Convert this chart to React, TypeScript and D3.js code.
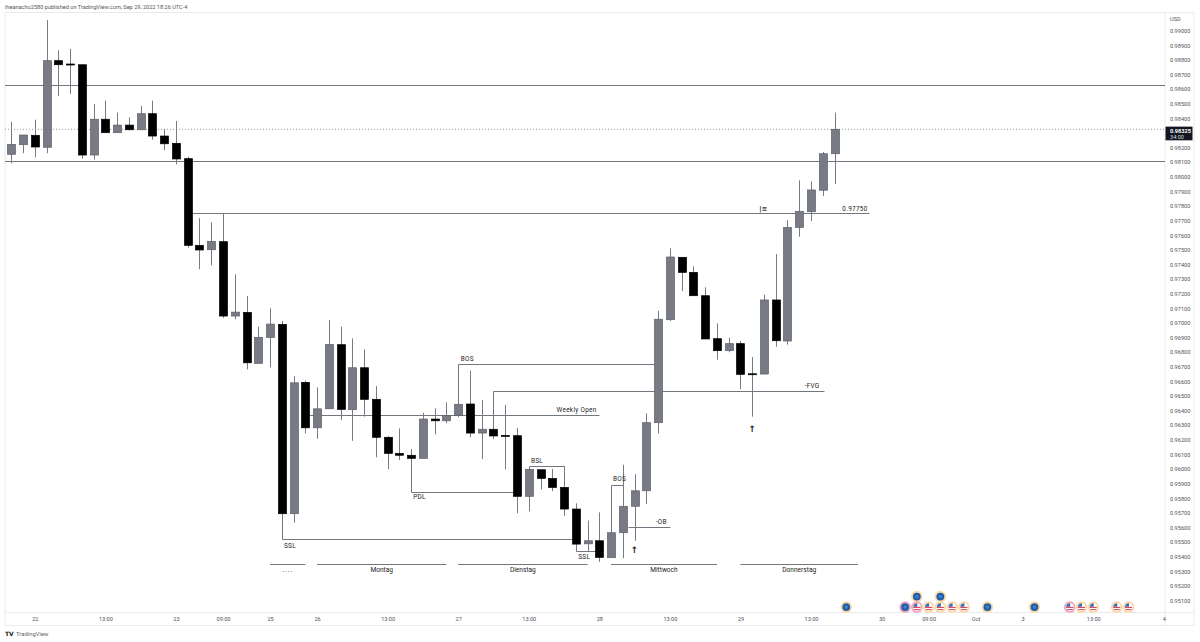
// App.tsx
import { useEffect, useRef } from "react";
import * as d3 from "d3";

//=============== DATA ===============
const opens = [
  0.98154, 0.98220, 0.98284, 0.98202, 0.98795, 0.98772, 0.98767, 0.98149, 0.98394, 0.98302, 0.98354, 0.98322,
  0.98432, 0.98279, 0.98229, 0.98124, 0.97531, 0.97501, 0.97556, 0.97047, 0.97072, 0.96723, 0.96901, 0.96990,
  0.95694, 0.96593, 0.96282, 0.96412, 0.96851, 0.96406, 0.96693, 0.96477, 0.96217, 0.96107, 0.96094, 0.96073,
  0.96342, 0.96330, 0.96367, 0.96445, 0.96246, 0.96272, 0.96230, 0.96228, 0.95813, 0.95995, 0.95936, 0.95874,
  0.95726, 0.95488, 0.95509, 0.95393, 0.95564, 0.95745, 0.95851, 0.96317, 0.97022, 0.97449, 0.97346, 0.97186,
  0.96892, 0.96810, 0.96858, 0.96652, 0.96650, 0.97157, 0.96876, 0.97654, 0.97761, 0.97908, 0.98158,
];
const highs = [
  0.98377, 0.98286, 0.98391, 0.99073, 0.98866, 0.98875, 0.98767, 0.98498, 0.98521, 0.98439, 0.98407, 0.98485,
  0.98521, 0.98327, 0.98382, 0.98137, 0.97716, 0.97688, 0.97750, 0.97332, 0.97184, 0.96974, 0.97100, 0.97013,
  0.96636, 0.96604, 0.96559, 0.97020, 0.96974, 0.96894, 0.96819, 0.96568, 0.96226, 0.96278, 0.96137, 0.96385,
  0.96415, 0.96456, 0.96443, 0.96673, 0.96472, 0.96272, 0.96438, 0.96282, 0.95998, 0.95995, 0.96000, 0.96020,
  0.95765, 0.95647, 0.95703, 0.95564, 0.96029, 0.95964, 0.96381, 0.97083, 0.97511, 0.97449, 0.97387, 0.97244,
  0.96997, 0.96898, 0.96876, 0.96766, 0.97193, 0.97471, 0.97704, 0.97976, 0.97969, 0.98170, 0.98439,
];
const lows = [
  0.98092, 0.98161, 0.98133, 0.98161, 0.98553, 0.98567, 0.98124, 0.98117, 0.98302, 0.98302, 0.98318, 0.98322,
  0.98254, 0.98181, 0.98085, 0.97515, 0.97367, 0.97394, 0.97033, 0.97024, 0.96682, 0.96723, 0.96696, 0.95657,
  0.95632, 0.96244, 0.96207, 0.96412, 0.96335, 0.96193, 0.96358, 0.96080, 0.95998, 0.96061, 0.96073, 0.96073,
  0.96237, 0.96313, 0.96354, 0.96217, 0.96068, 0.96205, 0.95998, 0.95697, 0.95710, 0.95861, 0.95849, 0.95678,
  0.95434, 0.95438, 0.95365, 0.95393, 0.95389, 0.95509, 0.95760, 0.96244, 0.97013, 0.97218, 0.97186, 0.96890,
  0.96748, 0.96799, 0.96547, 0.96358, 0.96650, 0.96837, 0.96851, 0.97590, 0.97697, 0.97868, 0.97951,
];
const closes = [
  0.98222, 0.98286, 0.98204, 0.98795, 0.98767, 0.98767, 0.98149, 0.98394, 0.98302, 0.98354, 0.98322, 0.98432,
  0.98279, 0.98226, 0.98122, 0.97531, 0.97499, 0.97558, 0.97047, 0.97074, 0.96727, 0.96901, 0.96992, 0.95694,
  0.96590, 0.96282, 0.96412, 0.96853, 0.96408, 0.96693, 0.96477, 0.96217, 0.96107, 0.96094, 0.96073, 0.96342,
  0.96330, 0.96367, 0.96443, 0.96246, 0.96272, 0.96226, 0.96224, 0.95813, 0.95998, 0.95936, 0.95874, 0.95726,
  0.95486, 0.95509, 0.95395, 0.95564, 0.95745, 0.95851, 0.96317, 0.97025, 0.97451, 0.97346, 0.97186, 0.96890,
  0.96810, 0.96858, 0.96648, 0.96648, 0.97157, 0.96878, 0.97654, 0.97764, 0.97910, 0.98158, 0.98325,
];

const priceTicks = d3.range(40, 0, -1).map((k) => 0.95 + k * 0.001).filter((p) => Math.abs(p - 0.983) > 0.0001);
const lastPrice = 0.98325;

// bar index -> label on the time axis
const timeTickBars = [2, 8, 14, 18, 22, 26, 32, 38, 44, 50, 56, 62, 68, 74, 78, 82, 86, 92, 98];
const timeTickLabels = ["22", "13:00", "23", "09:00", "25", "26", "13:00", "27", "13:00", "28", "13:00", "29", "13:00", "30", "09:00", "Oct", "3", "13:00", "4"];

// drawn levels and brackets: [bar, price] polylines
const fullLevels = [0.98628, 0.98108];
const drawings: [number, number][][] = [
  [[15, 0.9775], [72.9, 0.9775]],
  [[23, 0.95694], [23, 0.95518], [48, 0.95518]],
  [[25.3, 0.9637], [50, 0.9637]],
  [[38, 0.96443], [38, 0.96718], [55, 0.96718]],
  [[41, 0.96272], [41, 0.96534], [69.1, 0.96534]],
  [[34, 0.96073], [34, 0.95844], [43, 0.95844]],
  [[44, 0.95998], [44, 0.96018], [47, 0.96018], [47, 0.95874]],
  [[48, 0.95486], [48, 0.95436], [50, 0.95436]],
  [[51, 0.95564], [51, 0.9589], [52, 0.9589]],
  [[52.4, 0.95603], [56, 0.95603]],
];

const sessionBars: [number, number][] = [[22, 25], [26, 37], [38, 49], [51, 60], [62, 72]];
const sessionLabels = ["....", "Montag", "Dienstag", "Mittwoch", "Donnerstag"];
const sessionPrice = 0.95348;

const noteTexts = ["SSL", "Weekly Open", "BOS", "-FVG", "PDL", "BSL", "SSL", "BOS", "-OB", "0.97750"];
const noteBars = [23.19, 46.37, 38.21, 67.46, 34.18, 44.19, 48.21, 51.17, 54.8, 70.66];
const notePrices = [0.95462, 0.96393, 0.9674, 0.96553, 0.95793, 0.96042, 0.95387, 0.95919, 0.95622, 0.97769];
const arrowBars = [53, 63];
const arrowPrices = [0.95425, 0.96253];

// calendar markers along the bottom
const dotBars = [71, 76, 83, 87];
const dotBarsUpper = [77, 79];
const flagBars = [77, 78, 79, 80, 81, 90, 91, 92, 94, 95];
const pinkBars = [76, 77, 90];

const BODY_GRAY = "#787b86";
const LINE_GRAY = "#73767f";
const FONT = "Roboto, 'Liberation Sans', sans-serif";
const AXIS_SIZE = 5.6;

const App = () => {
  const svgRef = useRef<SVGSVGElement | null>(null);

  useEffect(() => {
    const svg = d3.select(svgRef.current);
    svg.selectAll("*").remove();

    const x = d3.scaleLinear().domain([0, 98]).range([11.3, 1163.8]);
    const y = d3.scaleLinear().domain([0.99, 0.951]).range([30.7, 600.5]);
    const left = 5, right = 1165, top = 12.5, bottom = 612.5, axisBottom = 625.5, axisRight = 1194;

    //------------ frame ------------
    const frame = svg.append("g").attr("stroke", "#e9eaec").attr("fill", "none");
    frame.append("path").attr("d", `M${left},${axisBottom}V${top}H${axisRight}V${axisBottom}Z`);
    frame.append("path").attr("d", `M${left},${bottom}H${axisRight}M${right},${top}V${axisBottom}`);

    //------------ levels ------------
    svg.append("g").selectAll("line").data(fullLevels).join("line")
      .attr("x1", left).attr("x2", right)
      .attr("y1", (d) => Math.round(y(d)) + 0.5).attr("y2", (d) => Math.round(y(d)) + 0.5)
      .attr("stroke", LINE_GRAY);

    svg.append("line")
      .attr("x1", left).attr("x2", right)
      .attr("y1", y(lastPrice)).attr("y2", y(lastPrice))
      .attr("stroke", "#9a9ca3").attr("stroke-dasharray", "1 2");

    const line = d3.line<[number, number]>()
      .x((d) => Math.round(x(d[0])) + 0.5)
      .y((d) => Math.round(y(d[1])) + 0.5);
    svg.append("g").selectAll("path").data(drawings).join("path")
      .attr("d", (d) => line(d))
      .attr("fill", "none").attr("stroke", LINE_GRAY);

    //------------ candles ------------
    const bars = d3.range(opens.length);
    const candles = svg.append("g");
    candles.selectAll("line").data(bars).join("line")
      .attr("x1", (i) => Math.round(x(i)) + 0.5).attr("x2", (i) => Math.round(x(i)) + 0.5)
      .attr("y1", (i) => y(highs[i])).attr("y2", (i) => y(lows[i]))
      .attr("stroke", BODY_GRAY);
    candles.selectAll("rect").data(bars).join("rect")
      .attr("x", (i) => Math.round(x(i)) - 3.5)
      .attr("width", 8)
      .attr("y", (i) => y(Math.max(opens[i], closes[i])))
      .attr("height", (i) => Math.max(Math.abs(y(opens[i]) - y(closes[i])), 1))
      .attr("fill", (i) => (closes[i] >= opens[i] ? BODY_GRAY : "#000"))
      .attr("stroke", (i) => (closes[i] >= opens[i] ? "#5d6069" : "#000"))
      .attr("stroke-width", 0.7);

    //------------ session brackets ------------
    const sessions = svg.append("g");
    sessions.selectAll("line").data(sessionBars).join("line")
      .attr("x1", (d) => x(d[0])).attr("x2", (d) => x(d[1]))
      .attr("y1", Math.round(y(sessionPrice)) + 0.5).attr("y2", Math.round(y(sessionPrice)) + 0.5)
      .attr("stroke", LINE_GRAY);
    sessions.selectAll("text").data(sessionBars).join("text")
      .attr("x", (d) => x((d[0] + d[1]) / 2)).attr("y", y(sessionPrice) + 7.8)
      .attr("text-anchor", "middle").attr("font-family", FONT).attr("font-size", 6.6).attr("fill", "#222")
      .attr("letter-spacing", (_, i) => (i === 0 ? 1 : 0))
      .text((_, i) => sessionLabels[i]);

    //------------ notes ------------
    svg.append("g").selectAll("text").data(noteTexts).join("text")
      .attr("x", (_, i) => x(noteBars[i])).attr("y", (_, i) => y(notePrices[i]))
      .attr("font-family", FONT).attr("font-size", 6.4).attr("fill", "#222")
      .attr("letter-spacing", 0.3)
      .text((d) => d);
    svg.append("g").selectAll("text").data(arrowBars).join("text")
      .attr("x", (d) => x(d)).attr("y", (_, i) => y(arrowPrices[i]))
      .attr("text-anchor", "middle").attr("font-family", "DejaVu Sans").attr("font-size", 9)
      .attr("font-weight", 700).attr("fill", "#222")
      .text("↑");
    // small flag on the 0.97750 level
    svg.append("text")
      .attr("x", x(63.94)).attr("y", y(0.97769)).attr("text-anchor", "middle")
      .attr("font-family", "DejaVu Sans").attr("font-size", 6.5).attr("font-weight", 700).attr("fill", "#333")
      .text("|≡");

    //------------ price axis ------------
    const priceAxis = d3.axisRight(y).tickValues(priceTicks).tickSize(0).tickPadding(0).tickFormat(d3.format(".5f") as any);
    const pa = svg.append("g").attr("transform", "translate(1170,0)").call(priceAxis);
    pa.select(".domain").remove();
    pa.selectAll("text").attr("font-family", FONT).attr("font-size", AXIS_SIZE).attr("fill", "#50535e");
    svg.append("text").attr("x", 1170).attr("y", 21).attr("font-family", FONT).attr("font-size", AXIS_SIZE).attr("fill", "#50535e").text("USD");

    svg.append("rect")
      .attr("x", 1165.5).attr("y", y(lastPrice) - 2.7).attr("width", 27).attr("height", 13.7).attr("fill", "#131722");
    svg.append("text").attr("x", 1170).attr("y", y(lastPrice) + 3.2).attr("font-family", FONT).attr("font-size", AXIS_SIZE)
      .attr("font-weight", 700).attr("fill", "#fff").text("0.98325");
    svg.append("text").attr("x", 1170).attr("y", y(lastPrice) + 9.4).attr("font-family", FONT).attr("font-size", AXIS_SIZE)
      .attr("fill", "#d1d4dc").text("34:00");

    //------------ time axis ------------
    const timeAxis = d3.axisBottom(x).tickValues(timeTickBars).tickSize(0).tickPadding(0)
      .tickFormat((_, i) => timeTickLabels[i]);
    const ta = svg.append("g").attr("transform", `translate(0,${bottom + 4.5})`).call(timeAxis);
    ta.select(".domain").remove();
    ta.selectAll("text").attr("font-family", FONT).attr("font-size", AXIS_SIZE).attr("fill", "#50535e");

    //------------ calendar markers ------------
    const rowLow = 0.95055, rowHigh = 0.95127;
    const markers = svg.append("g");
    const ORANGE = "#fbd9a8", PINK = "#f3a6c0";
    const drawDot = (i: number, p: number, halo: string) => {
      markers.append("circle").attr("cx", x(i)).attr("cy", y(p)).attr("r", 5.8).attr("fill", halo);
      markers.append("circle").attr("cx", x(i)).attr("cy", y(p)).attr("r", 3.9).attr("fill", "#1f5fa8");
      markers.append("circle").attr("cx", x(i)).attr("cy", y(p)).attr("r", 1.8).attr("fill", "#3f7fc4");
    };
    const drawFlag = (i: number, p: number, halo: string) => {
      markers.append("circle").attr("cx", x(i)).attr("cy", y(p)).attr("r", 5.8).attr("fill", halo);
      markers.append("circle").attr("cx", x(i)).attr("cy", y(p)).attr("r", 3.9).attr("fill", "#fff");
      markers.append("rect").attr("x", x(i) - 3.6).attr("y", y(p) - 0.2).attr("width", 7.2).attr("height", 1.1).attr("fill", "#d8475a");
      markers.append("rect").attr("x", x(i) - 3).attr("y", y(p) + 2).attr("width", 6).attr("height", 1).attr("fill", "#d8475a");
      markers.append("path")
        .attr("d", `M${x(i) - 3.6},${y(p) - 0.4}A3.9,3.9 0 0 1 ${x(i) + 0.5},${y(p) - 3.9}V${y(p) - 0.4}Z`)
        .attr("fill", "#3b6fb5");
    };
    dotBars.forEach((i) => drawDot(i, rowLow, pinkBars.includes(i) ? PINK : ORANGE));
    dotBarsUpper.forEach((i) => drawDot(i, rowHigh, ORANGE));
    flagBars.forEach((i) => drawFlag(i, rowLow, pinkBars.includes(i) ? PINK : ORANGE));

    //------------ header and logo ------------
    svg.append("text").attr("x", 5).attr("y", 9).attr("font-family", FONT).attr("font-size", AXIS_SIZE)
      .attr("fill", "#555").text("iheanacho2580 published on TradingView.com, Sep 29, 2022 18:26 UTC-4");
    svg.append("text").attr("x", 5).attr("y", 636).attr("font-family", "'DejaVu Sans'").attr("font-size", 6)
      .attr("font-weight", 700).attr("fill", "#222").text("TV");
    svg.append("text").attr("x", 16).attr("y", 636).attr("font-family", FONT).attr("font-size", 5.9)
      .attr("fill", "#666").text("TradingView");
  }, []);

  return (
    <svg ref={svgRef} width={1200} height={642} style={{ position: "absolute", left: 0, top: 0, background: "#fff", opacity: 0.999 }} />
  );
};

export default App;
